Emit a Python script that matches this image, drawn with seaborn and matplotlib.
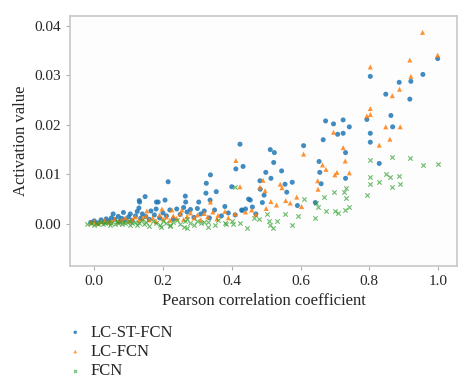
import matplotlib
matplotlib.use('Agg')
import matplotlib.pyplot as plt
import seaborn as sns
import pandas as pd

# LC-ST-FCN (modré kolečka)
st_x = [0.999, 0.956, 0.803, 0.887, 0.921, 0.848, 0.918, 0.863, 0.868, 0.793, 0.803, 0.803,
        0.673, 0.696, 0.724, 0.742, 0.708, 0.724, 0.666, 0.609, 0.424, 0.512, 0.524, 0.522,
        0.654, 0.656, 0.660, 0.731, 0.731, 0.829, 0.412, 0.433, 0.400, 0.338, 0.326, 0.325,
        0.355, 0.215, 0.148, 0.131, 0.132, 0.181, 0.186, 0.206, 0.265, 0.266, 0.304, 0.337,
        0.499, 0.482, 0.545, 0.514, 0.576, 0.560, 0.555, 0.494, 0.449, 0.454, 0.380, 0.591,
        0.643, 0.489, 0.429, 0.483,
        -0.01, 0.0, 0.01, 0.02, 0.03, 0.035, 0.045, 0.05, 0.055, 0.06, 0.07, 0.075, 0.08, 0.085,
        0.09, 0.1, 0.105, 0.11, 0.12, 0.125, 0.13, 0.135, 0.14, 0.15, 0.16, 0.165, 0.175, 0.18,
        0.19, 0.2, 0.21, 0.22, 0.23, 0.24, 0.25, 0.26, 0.27, 0.28, 0.29, 0.3, 0.31, 0.32, 0.335,
        0.35, 0.37, 0.39, 0.41, 0.43, 0.44, 0.46, 0.47]
st_y = [0.0334, 0.0302, 0.0298, 0.0286, 0.0288, 0.0262, 0.0252, 0.0219, 0.0196, 0.0211, 0.0183, 0.0165,
        0.0208, 0.0202, 0.0210, 0.0196, 0.0181, 0.0183, 0.0170, 0.0158, 0.0161, 0.0150, 0.0144, 0.0124,
        0.0126, 0.0104, 0.0081, 0.0144, 0.0092, 0.0122, 0.0111, 0.0116, 0.0075, 0.0099, 0.0082, 0.0062,
        0.0065, 0.0085, 0.0055, 0.0047, 0.0044, 0.0044, 0.0044, 0.0048, 0.0056, 0.0044, 0.0044, 0.0048,
        0.0104, 0.0087, 0.0107, 0.0092, 0.0084, 0.0064, 0.0080, 0.0058, 0.0050, 0.0048, 0.0035, 0.0037,
        0.0043, 0.0043, 0.0028, 0.0070,
        0.0003, 0.0006, 0.0002, 0.0008, 0.0004, 0.0010, 0.0006, 0.0012, 0.0020, 0.0009, 0.0015, 0.0005, 0.0011, 0.0023,
        0.0008, 0.0014, 0.0020, 0.0007, 0.0016, 0.0025, 0.0032, 0.0011, 0.0020, 0.0015, 0.0009, 0.0026, 0.0018, 0.0030,
        0.0012, 0.0022, 0.0016, 0.0028, 0.0010, 0.0030, 0.0019, 0.0033, 0.0024, 0.0029, 0.0013, 0.0031, 0.0020, 0.0026, 0.0012,
        0.0028, 0.0016, 0.0022, 0.0018, 0.0027, 0.0030, 0.0034, 0.0020]

# LC-FCN (oranžové trojúhelníky)
lc_x = [0.955, 0.999, 0.803, 0.918, 0.921, 0.888, 0.867, 0.803, 0.803, 0.848, 0.890, 0.860,
        0.829, 0.696, 0.724, 0.793, 0.412, 0.730, 0.609, 0.664, 0.674, 0.706, 0.700, 0.742,
        0.650, 0.651, 0.424, 0.491, 0.482, 0.497, 0.541, 0.546, 0.589, 0.514, 0.557, 0.603,
        0.338, 0.357, 0.380, 0.458, 0.197, 0.153, 0.226, 0.255,
        -0.01, 0.0, 0.01, 0.02, 0.03, 0.04, 0.05, 0.06, 0.07, 0.08, 0.09, 0.10, 0.11, 0.12,
        0.13, 0.14, 0.15, 0.16, 0.17, 0.18, 0.19, 0.2, 0.21, 0.22, 0.23, 0.24, 0.25, 0.26,
        0.27, 0.28, 0.29, 0.3, 0.31, 0.32, 0.33, 0.345, 0.36, 0.39, 0.41, 0.44, 0.47, 0.5,
        0.53, 0.57]
lc_y = [0.0387, 0.0341, 0.0317, 0.0331, 0.0298, 0.0272, 0.0259, 0.0233, 0.0221, 0.0196, 0.0196, 0.0171,
        0.0159, 0.0185, 0.0154, 0.0218, 0.0128, 0.0127, 0.0141, 0.0119, 0.0110, 0.0104, 0.0099, 0.0103,
        0.0087, 0.0070, 0.0075, 0.0088, 0.0074, 0.0067, 0.0080, 0.0073, 0.0054, 0.0045, 0.0047, 0.0035,
        0.0044, 0.0010, 0.0025, 0.0028, 0.0030, 0.0026, 0.0028, 0.0028,
        0.0002, 0.0005, 0.0001, 0.0004, 0.0007, 0.0003, 0.0006, 0.0010, 0.0004, 0.0008, 0.0012, 0.0005, 0.0009, 0.0014,
        0.0006, 0.0011, 0.0016, 0.0008, 0.0012, 0.0005, 0.0018, 0.0010, 0.0014, 0.0007, 0.0016, 0.0011, 0.0020, 0.0009,
        0.0015, 0.0022, 0.0012, 0.0018, 0.0008, 0.0021, 0.0014, 0.0024, 0.0017, 0.0012, 0.0020, 0.0024, 0.0019, 0.0031,
        0.0038, 0.0042]

# FCN (zelené křížky)
fcn_x = [0.999, 0.956, 0.918, 0.865, 0.802, 0.803, 0.803, 0.829, 0.848, 0.860, 0.887, 0.890,
         0.867, 0.793, 0.731, 0.726, 0.731, 0.742, 0.729, 0.697, 0.667, 0.675, 0.701, 0.709,
         0.646, 0.652, 0.643, 0.610, 0.594, 0.576, 0.556, 0.532, 0.521, 0.509, 0.512, 0.480,
         0.502, 0.445, 0.466, 0.410, 0.405, 0.425, 0.384, 0.332, 0.320, 0.270, 0.195, 0.221,
         -0.02, -0.01, 0.0, 0.005, 0.01, 0.02, 0.025, 0.03, 0.04, 0.045, 0.05, 0.06, 0.065, 0.07,
         0.08, 0.085, 0.09, 0.1, 0.105, 0.11, 0.12, 0.125, 0.13, 0.14, 0.145, 0.15, 0.16, 0.17,
         0.18, 0.19, 0.2, 0.21, 0.22, 0.23, 0.24, 0.25, 0.26, 0.265, 0.27, 0.28, 0.29, 0.3,
         0.31, 0.33, 0.35, 0.36, 0.38, 0.4]
fcn_y = [0.0121, 0.0118, 0.0134, 0.0135, 0.0128, 0.0095, 0.0080, 0.0085, 0.0101, 0.0095, 0.0097, 0.0081,
         0.0075, 0.0058, 0.0073, 0.0064, 0.0053, 0.0034, 0.0028, 0.0065, 0.0054, 0.0026, 0.0026, 0.0022,
         0.0043, 0.0035, 0.0011, 0.0050, 0.0016, -0.0002, 0.0020, 0.0005, -0.0009, 0.0006, -0.0003, 0.0010,
         0.0020, -0.0008, 0.0011, 0.0075, -0.0001, 0.0002, -0.0001, -0.0007, 0.0003, -0.0008, -0.0007, -0.0003,
         0.0, 0.0001, -0.0002, 0.0002, 0.0, 0.0003, -0.0001, 0.0001, 0.0004, -0.0002, 0.0002, 0.0, 0.0005, 0.0001,
         -0.0001, 0.0004, 0.0002, 0.0006, -0.0002, 0.0001, 0.0004, -0.0003, 0.0002, 0.0007, -0.0001, 0.0003, -0.0004, 0.0005,
         0.0001, -0.0003, 0.0006, 0.0002, -0.0005, 0.0004, 0.0008, 0.0, -0.0006, 0.0005, 0.0010, 0.0002, -0.0002, 0.0006,
         0.0001, 0.0004, -0.0003, 0.0008, 0.0002, 0.0006]

df_st = pd.DataFrame({'Pearson': st_x, 'Activation': st_y})
df_lc = pd.DataFrame({'Pearson': lc_x, 'Activation': lc_y})
df_fcn = pd.DataFrame({'Pearson': fcn_x, 'Activation': fcn_y})

sns.set_style('white')
plt.rcParams['font.family'] = ['Liberation Serif', 'DejaVu Serif']

fig = plt.figure(figsize=(4.74, 3.91), dpi=100)
ax = fig.add_axes([0.148, 0.320, 0.816, 0.639])
ax.set_facecolor('#fdfdfd')

pal = sns.color_palette('tab10')
sns.scatterplot(data=df_st, x='Pearson', y='Activation', ax=ax, marker='o', s=13,
                color=pal[0], edgecolor='none', alpha=0.85, label='LC-ST-FCN')
sns.scatterplot(data=df_lc, x='Pearson', y='Activation', ax=ax, marker='^', s=13,
                color=pal[1], edgecolor='none', alpha=0.85, label='LC-FCN')
sns.scatterplot(data=df_fcn, x='Pearson', y='Activation', ax=ax, marker='x', s=10,
                color=pal[2], linewidth=0.8, alpha=0.7, label='FCN')

ax.set_xlim(-0.07, 1.055)
ax.set_ylim(-0.0085, 0.042)
ax.set_xticks([0.0, 0.2, 0.4, 0.6, 0.8, 1.0])
ax.set_yticks([0.0, 0.01, 0.02, 0.03, 0.04])
ax.set_xticklabels(['0.0', '0.2', '0.4', '0.6', '0.8', '1.0'])
ax.set_yticklabels(['0.00', '0.01', '0.02', '0.03', '0.04'])
ax.tick_params(labelsize=11, length=3, color='#b0b0b0', left=True, bottom=True)
for s in ax.spines.values():
    s.set_color('#c8c8c8')
    s.set_linewidth(1.2)
ax.set_xlabel('Pearson correlation coefficient', fontsize=12)
ax.set_ylabel('Activation value', fontsize=12)

h, l = ax.get_legend_handles_labels()
ax.get_legend().remove()
fig.legend(h, l, loc='upper left', bbox_to_anchor=(0.113, 0.208), frameon=False,
           fontsize=12, markerscale=0.7, handlelength=0.8, handletextpad=0.5, labelspacing=0.2)

plt.savefig('out.png', dpi=100)
